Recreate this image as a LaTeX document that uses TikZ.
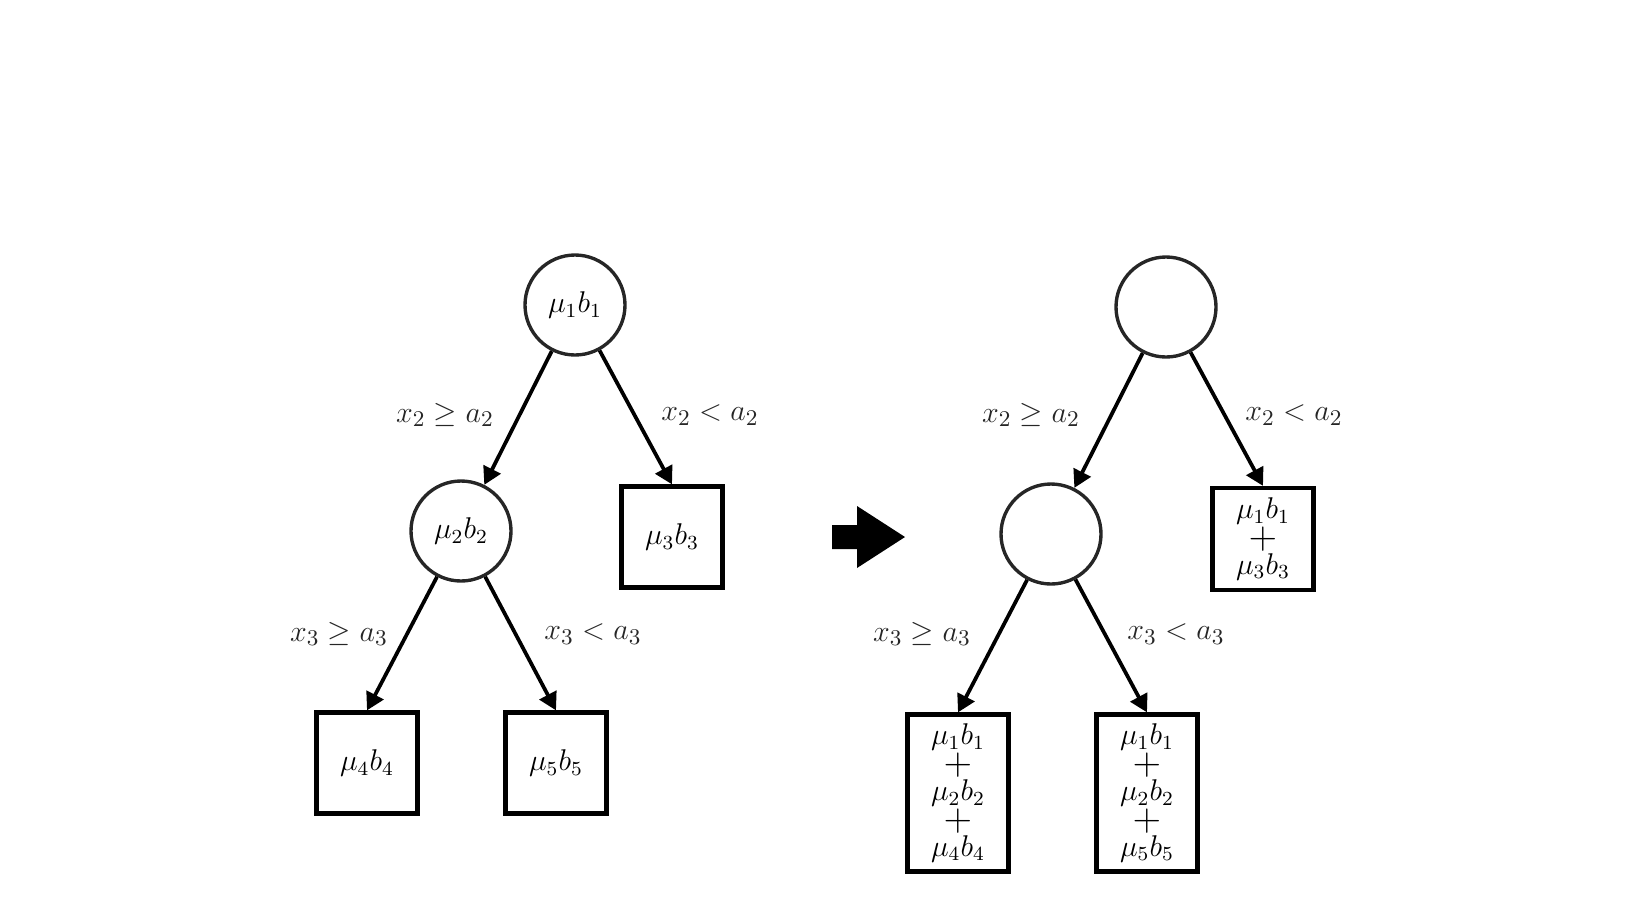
\documentclass[tikz,border=0pt]{standalone}
\usetikzlibrary{arrows.meta}
\begin{document}
\begin{tikzpicture}[x=0.4pt,y=-0.4pt,
  circ/.style={circle,draw=black!85,line width=1.35pt,minimum size=40pt,inner sep=0pt,font=\fontsize{12}{13}\selectfont},
  sq/.style={rectangle,draw=black,line width=1.7pt,minimum width=40.4pt,minimum height=40.4pt,inner sep=0pt,font=\fontsize{12}{13}\selectfont},
  tall/.style={sq,minimum height=62.8pt,align=center,font=\fontsize{12}{10.4}\selectfont},
  mid/.style={sq,minimum height=40.8pt,align=center,font=\fontsize{12}{10.4}\selectfont},
  edge/.style={line width=1.5pt,-{Triangle[length=7pt,width=7.5pt]}},
  lab/.style={font=\fontsize{12.5}{13}\selectfont,text=black!85}]
\useasboundingbox (0,0) rectangle (1626,901);
\newcommand{\pl}{\scalebox{1.25}{$+$}\\}
% left tree
\node[circ] (a1) at (575,305) {$\mu_1b_1$};
\node[circ] (a2) at (461,531) {$\mu_2b_2$};
\node[sq] (a3) at (672,537) {$\mu_3b_3$};
\node[sq] (a4) at (367,763) {$\mu_4b_4$};
\node[sq] (a5) at (556,763) {$\mu_5b_5$};
\draw[edge] (a1) -- (a2);
\draw[edge] (a1) -- (a3.north);
\draw[edge] (a2) -- (a4.north);
\draw[edge] (a2) -- (a5.north);
\node[lab] (l1) at (445,415) {$x_2\geq a_2$};
\node[lab] (l2) at (710,415) {$x_2<a_2$};
\node[lab] (l3) at (339,634) {$x_3\geq a_3$};
\node[lab] (l4) at (593,634) {$x_3<a_3$};
% big arrow
\fill (832,525) -- (857,525) -- (857,506) -- (905,537) -- (857,568) -- (857,549) -- (832,549) -- cycle;
% right tree
\node[circ] (b1) at (1166,307) {};
\node[circ] (b2) at (1051,534) {};
\node[mid] (b3) at (1263,539) {$\mu_1b_1$\\\pl$\mu_3b_3$};
\node[tall] (b4) at (958,793) {$\mu_1b_1$\\\pl$\mu_2b_2$\\\pl$\mu_4b_4$};
\node[tall] (b5) at (1147,793) {$\mu_1b_1$\\\pl$\mu_2b_2$\\\pl$\mu_5b_5$};
\draw[edge] (b1) -- (b2);
\draw[edge] (b1) -- (b3.north);
\draw[edge] (b2) -- (b4.north);
\draw[edge] (b2) -- (b5.north);
\node[lab] (m1) at (1031,415) {$x_2\geq a_2$};
\node[lab] (m2) at (1294,415) {$x_2<a_2$};
\node[lab] (m3) at (922,634) {$x_3\geq a_3$};
\node[lab] (m4) at (1176,634) {$x_3<a_3$};
\end{tikzpicture}
\end{document}
